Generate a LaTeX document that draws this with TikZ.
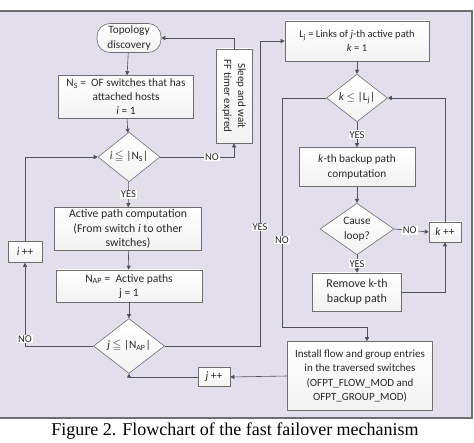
\documentclass[tikz,border=0pt]{standalone}
\usepackage{fontspec}
\usepackage{amssymb}
\setmainfont{Carlito}
\newfontfamily\capfont{Liberation Serif}
\usetikzlibrary{shapes.geometric,arrows.meta,calc}
\definecolor{lav}{RGB}{226,222,236}
\definecolor{edge}{RGB}{110,110,110}
\definecolor{linec}{RGB}{80,80,90}
\definecolor{txt}{RGB}{40,40,40}
\tikzset{
  base/.style={draw=edge, line width=0.6pt, top color=white, bottom color=gray!10, text=txt, font=\fontsize{11.3}{15}\selectfont, align=center, inner sep=1pt},
  pbox/.style={base, rectangle},
  pdia/.style={base, diamond, inner sep=0pt},
  small/.style={font=\fontsize{10.5}{14.5}\selectfont},
  conn/.style={draw=linec, line width=0.6pt, -{Triangle[length=4pt,width=4pt]}},
  lbl/.style={fill=white, inner sep=1pt, text=txt, font=\fontsize{10.5}{12}\selectfont}
}
\begin{document}
\begin{tikzpicture}[x=1pt,y=-1pt]
\useasboundingbox (0,0) rectangle (474,443);
\fill[lav] (0,11) rectangle (472,418);
\draw[edge, line width=1.2pt] (0,11) -- (472,11) -- (472,418) -- (0,418);
% nodes
\node[base, rounded corners=13pt, minimum width=64pt, minimum height=29pt] (topo) at (129,38) {Topology\\discovery};
\node[pbox, minimum width=135pt, minimum height=43pt, font=\fontsize{11.3}{14}\selectfont] (ns) at (126,97) {N\textsubscript{S} =\ \ OF switches that has\\attached hosts\\\textit{i} = 1};
\node[pdia, minimum width=62pt, minimum height=36pt] (di) at (129,157) {\textit{i} $\leqq$ |N\textsubscript{S}|};
\node[pbox, minimum width=147pt, minimum height=43pt, font=\fontsize{11.8}{14.5}\selectfont] (act) at (128,229) {Active path computation\\(From switch \textit{i} to other\\switches)};
\node[pbox, minimum width=146pt, minimum height=32pt, font=\fontsize{11.5}{14}\selectfont] (nap) at (129,286) {N\textsubscript{AP} =\ \ Active paths\\j = 1};
\node[pdia, minimum width=71pt, minimum height=42pt] (dj) at (129,346) {\textit{j} $\leqq$ |N\textsubscript{AP}|};
\node[pbox, minimum width=34pt, minimum height=21pt] (ipp) at (25,252) {\textit{i} ++};
\node[pbox, minimum width=32pt, minimum height=19pt] (jpp) at (214,377) {\textit{j} ++};
\node[pbox, minimum width=36pt, minimum height=94pt] (sleep) at (234,96) {};
\node[text=txt, font=\fontsize{11}{14}\selectfont, align=center, rotate=-90] (sleeptxt) at (sleep.center) {Sleep and wait\\FF timer expired};
\node[pbox, small, minimum width=144pt, minimum height=40pt] (lj) at (357,41) {L\textsubscript{j} = Links of \textit{j}-th active path\\\textit{k} = 1};
\node[pdia, minimum width=61pt, minimum height=38pt] (dk) at (357,98) {\textit{k} $\leq$ |L\textsubscript{j}|};
\node[pbox, minimum width=116pt, minimum height=39pt] (kth) at (357,167) {\textit{k}-th backup path\\computation};
\node[pdia, minimum width=74pt, minimum height=43pt] (cl) at (357,229) {Cause\\loop?};
\node[pbox, minimum width=32pt, minimum height=20pt] (kpp) at (445,232) {\textit{k} ++};
\node[pbox, minimum width=89pt, minimum height=38pt, font=\fontsize{12}{15}\selectfont] (rm) at (357,292) {Remove k-th\\backup path};
\node[pbox, minimum width=145pt, minimum height=69pt, font=\fontsize{11}{14.5}\selectfont] (inst) at (360,376) {Install flow and group entries\\in the traversed switches\\(OFPT\_FLOW\_MOD and\\OFPT\_GROUP\_MOD)};
% connectors
\draw[conn] (topo) -- (ns);
\draw[conn] (ns) -- (di);
\draw[conn] (di) -- node[lbl, pos=0.5] (yes1) {YES} (act);
\draw[conn] (act) -- (nap);
\draw[conn] (nap) -- (dj);
\draw[conn] (di.east) -- node[lbl, pos=0.7] (no1) {NO} (sleep.south |- di.east) -- (sleep.south);
\draw[conn] (sleep.north) -- (sleep.north |- topo.east) -- (topo.east);
\draw[conn] (dj.west) -- (ipp.south |- dj.west) -- (ipp.south);
\node[lbl] (no2) at (25,339) {NO};
\draw[conn] (ipp.north) -- (ipp.north |- di.west) -- (di.west);
\draw[conn] (dj.east) -- (260,346) -- node[lbl, pos=0.39] (yes2) {YES} (260,41) -- (lj.west);
\draw[conn] (lj) -- (dk);
\draw[conn] (dk) -- node[lbl] (yes3) {YES} (kth);
\draw[conn] (kth) -- (cl);
\draw[conn] (cl.east) -- node[lbl, pos=0.45] (no3) {NO} (kpp.west);
\draw[conn] (cl) -- node[lbl] (yes4) {YES} (rm);
\draw[conn] (rm.east) -- (kpp.south |- rm.east) -- (kpp.south);
\draw[conn] (kpp.north) -- (kpp.north |- dk.east) -- (dk.east);
\draw[conn] (dk.west) -- (282,98) -- node[lbl, pos=0.62] (no4) {NO} (282,327) -- (367,327) -- ($(inst.north)+(7,0)$);
\draw[conn] (inst.west) -- (jpp.east);
\draw[conn] (jpp.west) -- (dj.south |- jpp.west) -- (dj.south);
% caption
\node[font=\capfont\fontsize{18}{20}\selectfont] (cap) at (235,431) {Figure 2. Flowchart of the fast failover mechanism};
\end{tikzpicture}
\end{document}
